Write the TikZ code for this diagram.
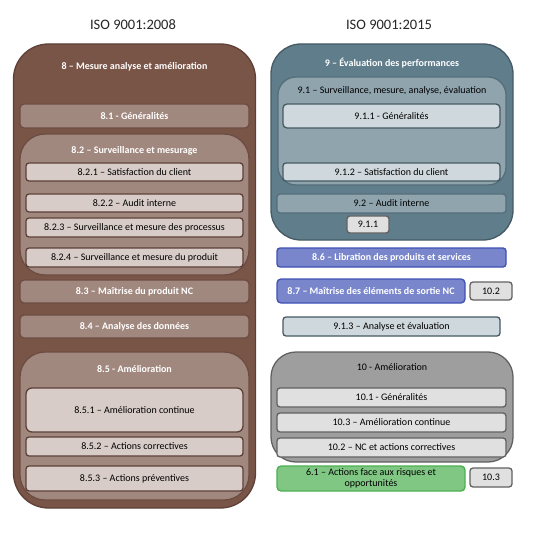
\documentclass[tikz,border=0pt]{standalone}
\usepackage{fontspec}
\setmainfont{Carlito}
\definecolor{brA}{HTML}{795548}
\definecolor{brAd}{HTML}{5D4037}
\definecolor{brB}{HTML}{A1887F}
\definecolor{brBd}{HTML}{6D4C41}
\definecolor{brC}{HTML}{D7CCC8}
\definecolor{slA}{HTML}{607D8B}
\definecolor{slAd}{HTML}{455A64}
\definecolor{slB}{HTML}{90A4AE}
\definecolor{slBd}{HTML}{546E7A}
\definecolor{slC}{HTML}{CFD8DC}
\definecolor{inA}{HTML}{7986CB}
\definecolor{inAd}{HTML}{3F51B5}
\definecolor{grA}{HTML}{9E9E9E}
\definecolor{grAd}{HTML}{616161}
\definecolor{grC}{HTML}{E0E0E0}
\definecolor{gnA}{HTML}{81C784}
\definecolor{gnAd}{HTML}{4CAF50}
\tikzset{
  box/.style={rectangle, inner sep=0pt, line width=1.3pt, rounded corners=4pt, font=\fontsize{10}{11}\selectfont, align=center},
  wtxt/.style={text=white, font=\fontsize{10}{11}\selectfont\bfseries},
  dtxt/.style={text=black, font=\fontsize{10}{11}\selectfont},
  title/.style={font=\fontsize{14.5}{16}\selectfont, text=black!85},
  brownouter/.style={box, fill=brA, draw=brAd},
  brownmid/.style={box, fill=brB, draw=brBd, wtxt},
  brownlight/.style={box, fill=brC, draw=brAd, dtxt},
  slateouter/.style={box, fill=slA, draw=slAd},
  slatemid/.style={box, fill=slB, draw=slBd, dtxt},
  slatelight/.style={box, fill=slC, draw=slAd, dtxt},
  indigobox/.style={box, fill=inA, draw=inAd, wtxt},
  greyouter/.style={box, fill=grA, draw=grAd},
  greylight/.style={box, fill=grC, draw=grAd, dtxt},
  greenbox/.style={box, fill=gnA, draw=gnAd, dtxt},
}
\newcommand{\bx}[6]{\node[#1, minimum width=#4pt, minimum height=#5pt] (#2) at #3 {#6};}
\begin{document}
\begin{tikzpicture}[x=1pt,y=-1pt]
\useasboundingbox (0,0) rectangle (534,534);
% titles
\node[title] (t2008) at (133,25) {ISO 9001:2008};
\node[title] (t2015) at (389,25) {ISO 9001:2015};
% ---------------- left column
\bx{brownouter, rounded corners=35pt}{c8}{(134.5,276)}{242}{464}{}
\node[wtxt] (c8t) at (134.5,67) {8 – Mesure analyse et amélioration};
\bx{brownmid}{c81}{(134.5,116)}{229}{24}{8.1 - Généralités}
\bx{brownmid, rounded corners=25pt}{c82}{(134.5,204.5)}{229}{141}{}
\node[wtxt] (c82t) at (134.5,151) {8.2 – Surveillance et mesurage};
\bx{brownlight, rounded corners=3pt}{c821}{(134.5,172)}{217}{18}{8.2.1 – Satisfaction du client}
\bx{brownlight, rounded corners=3pt}{c822}{(134.5,203)}{217}{18}{8.2.2 – Audit interne}
\bx{brownlight, rounded corners=3pt}{c823}{(134.5,227.5)}{217}{19}{8.2.3 – Surveillance et mesure des processus}
\bx{brownlight, rounded corners=3pt}{c824}{(134.5,257.5)}{217}{19}{8.2.4 – Surveillance et mesure du produit}
\bx{brownmid}{c83}{(134.5,291.5)}{229}{23}{8.3 – Maîtrise du produit NC}
\bx{brownmid}{c84}{(134.5,326.5)}{229}{23}{8.4 – Analyse des données}
\bx{brownmid, rounded corners=25pt}{c85}{(134.5,426)}{229}{148}{}
\node[wtxt] (c85t) at (134.5,369) {8.5 - Amélioration};
\bx{brownlight, rounded corners=6pt}{c851}{(134.5,410)}{217}{44}{8.5.1 – Amélioration continue}
\bx{brownlight, rounded corners=3pt}{c852}{(134.5,446.5)}{217}{19}{8.5.2 – Actions correctives}
\bx{brownlight, rounded corners=3pt}{c853}{(134.5,478.5)}{217}{25}{8.5.3 – Actions préventives}
% ---------------- right column
\bx{slateouter, rounded corners=30pt}{n9}{(392,142)}{242}{196}{}
\node[wtxt] (n9t) at (392,63) {9 – Évaluation des performances};
\bx{slatemid, rounded corners=18pt}{n91}{(392,131)}{228}{108}{}
\node[dtxt] (n91t) at (392,91) {9.1 – Surveillance, mesure, analyse, évaluation};
\bx{slatelight}{n911}{(391.5,116)}{217}{24}{9.1.1 - Généralités}
\bx{slatelight, rounded corners=3pt}{n912}{(391.5,172)}{217}{18}{9.1.2 – Satisfaction du client}
\bx{slatemid, rounded corners=3pt}{n92}{(391.5,203.5)}{229}{19}{9.2 – Audit interne}
\bx{greylight, rounded corners=3pt}{s911}{(368,224.5)}{42}{17}{9.1.1}
\bx{indigobox, rounded corners=3pt}{n86}{(391.5,257.5)}{229}{19}{8.6 – Libration des produits et services}
\bx{indigobox}{n87}{(371,291)}{188}{24}{8.7 – Maîtrise des éléments de sortie NC}
\bx{greylight, rounded corners=3pt}{s102}{(491,291)}{42}{18}{10.2}
\bx{slatelight, rounded corners=3pt}{n913}{(391.5,326.5)}{217}{19}{9.1.3 – Analyse et évaluation}
\bx{greyouter, rounded corners=25pt}{n10}{(392,407)}{242}{110}{}
\node[dtxt] (n10t) at (392,367) {10 - Amélioration};
\bx{greylight, rounded corners=3pt}{n101}{(391.5,397.5)}{229}{19}{10.1 - Généralités}
\bx{greylight, rounded corners=3pt}{n103}{(391.5,422.5)}{229}{19}{10.3 – Amélioration continue}
\bx{greylight, rounded corners=3pt}{n102}{(391.5,447.5)}{229}{19}{10.2 – NC et actions correctives}
\bx{greenbox}{n61}{(371,478.5)}{188}{25}{\fontsize{10}{12.5}\selectfont 6.1 – Actions face aux risques et\\ opportunités}
\bx{greylight, rounded corners=3pt}{s103}{(491,477.5)}{42}{19}{10.3}
\end{tikzpicture}
\end{document}
